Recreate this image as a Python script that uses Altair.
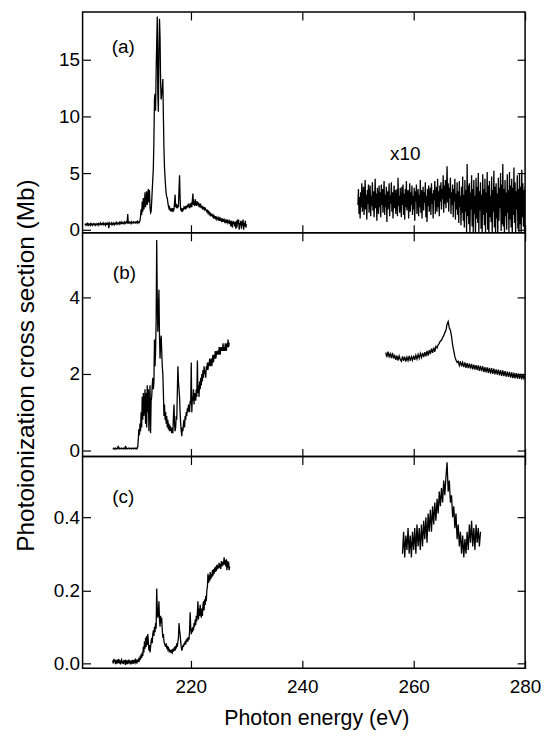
import altair as alt
import pandas as pd

# ---------------- data ----------------
# x grids: (start eV, step eV); y values
A1_START, A1_STEP = 201.0, 0.1
A1_Y = [
    0.45, 0.5, 0.4, 0.5, 0.45, 0.55, 0.4, 0.5, 0.45, 0.5,
    0.4, 0.55, 0.45, 0.5, 0.4, 0.5, 0.55, 0.45, 0.5, 0.4,
    0.5, 0.45, 0.55, 0.5, 0.4, 0.55, 0.5, 0.45, 0.6, 0.5,
    0.45, 0.55, 0.5, 0.6, 0.45, 0.5, 0.55, 0.4, 0.55, 0.5,
    0.6, 0.5, 0.55, 0.15, 0.6, 0.5, 0.55, 0.5, 0.6, 0.45,
    0.55, 0.5, 0.6, 0.45, 0.55, 0.6, 0.5, 0.65, 0.55, 0.5,
    0.6, 0.55, 0.65, 0.5, 0.6, 0.7, 0.55, 0.6, 0.65, 0.55,
    0.6, 0.7, 0.55, 0.65, 0.6, 0.7, 0.65, 1.4, 0.6, 0.65,
    0.6, 0.7, 0.65, 0.55, 0.7, 0.6, 0.65, 0.7, 0.6, 0.65,
    0.7, 0.6, 0.65, 0.7, 0.6, 0.75, 0.65, 0.6, 0.7, 0.8,
    1.2, 1.8, 1.3, 2.5, 1.6, 2.8, 1.8, 2.2, 3.3, 2.0,
    2.6, 3.4, 2.2, 3.0, 3.6, 2.4, 3.5, 2.0, 1.5, 1.6,
    2.5, 3.5, 4.5, 5.5, 8.0, 11.5, 12.0, 10.5, 14.0, 16.5,
    18.8, 12.0, 10.4, 16.0, 18.6, 17.0, 13.0, 11.5, 12.0, 12.5,
    13.3, 10.0, 7.2, 5.5, 4.6, 3.8, 3.2, 2.9, 2.8, 2.4,
    2.1, 1.9, 2.0, 1.7, 1.9, 1.6, 1.8, 1.7, 1.9, 1.7,
    1.8, 2.4, 3.1, 2.0, 2.3, 1.9, 2.2, 2.0, 2.1, 3.5,
    4.8, 2.8, 1.7, 1.8, 1.6, 1.9, 1.7, 1.8, 2.0, 1.9,
    2.0, 1.8, 2.1, 1.9, 2.2, 2.0, 2.3, 2.1, 1.9, 2.2,
    2.1, 2.4, 2.0, 2.6, 3.2, 2.2, 2.5, 2.1, 2.7, 2.3,
    2.4, 2.1, 2.5, 2.2, 2.4, 2.0, 2.3, 2.1, 2.2, 1.9,
    2.1, 1.9, 2.0, 1.8, 2.0, 1.7, 1.9, 1.8, 1.7, 1.6,
    1.7, 1.5, 1.6, 1.4, 1.5, 1.3, 1.4, 1.2, 1.4, 1.2,
    1.3, 1.1, 1.2, 1.0, 1.2, 1.0, 1.1, 0.9, 1.0, 1.1,
    0.9, 1.0, 0.8, 1.0, 0.9, 0.8, 1.0, 0.7, 0.9, 0.8,
    0.9, 0.7, 0.8, 0.6, 0.8, 0.7, 0.9, 0.6, 0.7, 0.8,
    0.5, 0.8, 0.3, 0.7, 0.6, 0.2, 0.8, 0.5, 0.7, 0.3,
    0.7, 0.1, 0.8, 0.2, 0.9, 0.5, 0.9, 0.0, 0.6, 0.4,
    0.8, 0.1, 0.6, 0.5, 0.9, 0.0, 0.6, 0.3, 0.8, 0.2,
    0.5,
]

A2_START, A2_STEP = 250.0, 0.1   # the "x10" trace
A2_Y = [
    2.2, 3.6, 1.4, 2.9, 1.0, 3.3, 2.0, 4.1, 1.6, 2.7,
    3.8, 1.3, 2.5, 4.4, 1.8, 3.1, 0.9, 3.5, 2.3, 4.0,
    1.5, 2.8, 3.9, 1.2, 3.0, 2.1, 4.2, 1.7, 3.4, 1.1,
    2.6, 4.5, 1.9, 3.2, 0.8, 3.7, 2.4, 1.4, 3.9, 2.0,
    3.3, 1.1, 4.0, 2.2, 3.6, 1.5, 2.9, 4.3, 1.3, 3.1,
    2.0, 3.8, 0.7, 3.4, 1.8, 2.6, 4.1, 1.2, 3.0, 2.3,
    4.2, 1.6, 3.3, 1.0, 2.8, 3.9, 1.9, 3.5, 1.4, 2.7,
    3.6, 1.2, 4.6, 2.1, 3.0, 1.5, 3.7, 2.4, 1.1, 3.8,
    2.2, 4.0, 1.3, 3.2, 0.9, 3.6, 2.0, 4.3, 1.7, 2.9,
    3.5, 1.0, 2.6, 4.1, 1.6, 3.3, 2.2, 3.9, 1.3, 3.0,
    1.8, 3.7, 0.8, 3.4, 2.5, 4.0, 1.4, 2.8, 3.6, 1.2,
    3.1, 2.0, 4.4, 1.5, 3.5, 1.0, 2.9, 3.8, 1.7, 3.3,
    2.4, 4.2, 1.1, 3.0, 0.7, 3.6, 2.1, 3.9, 1.6, 2.8,
    3.7, 1.3, 4.1, 2.3, 3.2, 1.0, 3.5, 2.6, 4.3, 1.4,
    2.9, 3.8, 1.6, 4.5, 2.0, 3.4, 1.2, 3.9, 2.5, 4.2,
    1.8, 3.6, 2.7, 4.8, 1.5, 3.9, 2.3, 4.4, 1.9, 3.5,
    5.6, 2.4, 4.1, 1.6, 3.7, 2.8, 4.6, 1.4, 3.3, 2.2,
    4.0, 1.1, 3.6, 2.5, 4.5, 0.9, 3.2, 1.8, 4.2, 1.3,
    3.4, 0.6, 4.3, 2.0, 3.0, 0.4, 3.8, 1.5, 4.7, 0.8,
    3.1, 0.2, 4.4, 1.6, 3.5, -0.3, 5.8, 1.2, 3.9, 0.5,
    4.1, -0.4, 3.3, 1.8, 4.8, 0.3, 3.6, -0.2, 4.4, 1.4,
    3.0, -0.5, 4.6, 1.0, 3.8, 0.6, 5.0, -0.3, 3.4, 1.7,
    4.2, 0.1, 3.1, -0.4, 4.9, 1.3, 3.6, 0.4, 4.5, -0.2,
    3.3, 1.5, 5.1, 0.0, 3.9, -0.5, 4.3, 1.1, 3.0, 0.7,
    4.7, -0.3, 3.5, 1.6, 5.2, 0.2, 3.8, -0.4, 4.1, 1.0,
    3.2, -0.5, 4.6, 0.8, 3.7, 1.9, 5.0, -0.1, 4.0, 0.5,
    5.8, 0.3, 3.6, -0.5, 4.4, 1.2, 3.3, 0.0, 4.9, 1.5,
    3.5, -0.3, 5.1, 0.9, 3.9, 0.2, 4.5, -0.4, 3.7, 1.3,
    5.5, 0.6, 4.2, -0.4, 3.4, 1.8, 4.8, 0.1, 3.6, -0.2,
    4.9, 0.5, 3.8, -0.5, 5.3, 1.1, 4.1, 0.3, 3.5, -0.3,
    3.8,
]

B1_START, B1_STEP = 206.0, 0.1
B1_Y = [
    0.05, 0.04, 0.06, 0.05, 0.03, 0.06, 0.05, 0.04, 0.06, 0.05,
    0.12, 0.05, 0.04, 0.06, 0.05, 0.04, 0.06, 0.05, 0.05, 0.04,
    0.06, 0.05, 0.04, 0.12, 0.05, 0.06, 0.04, 0.05, 0.06, 0.05,
    0.04, 0.06, 0.05, 0.05, 0.04, 0.06, 0.05, 0.04, 0.06, 0.05,
    0.05, 0.06, 0.04, 0.06, 0.05, 0.1, 0.3, 0.55, 0.4, 0.7,
    0.5, 1.0, 0.6, 1.4, 0.8, 1.5, 0.9, 1.2, 1.6, 0.7,
    1.5, 0.6, 1.7, 1.0, 1.6, 0.5, 1.3, 1.7, 0.45, 1.3,
    1.4, 1.7, 1.9, 1.6, 1.8, 2.9, 2.2, 2.6, 3.4, 5.5,
    4.0, 3.1, 3.6, 4.2, 3.0, 2.4, 2.8, 3.0, 2.6, 2.2,
    2.0, 1.5, 0.9, 1.2, 0.8, 1.0, 0.7, 0.9, 0.6, 0.8,
    0.55, 0.7, 0.5, 0.65, 0.5, 0.6, 0.45, 0.6, 0.45, 0.9,
    1.2, 0.7, 0.5, 0.6, 0.9, 0.8, 1.5, 2.2, 1.8, 1.6,
    1.4, 1.0, 0.7, 0.5, 0.37, 0.6, 0.5, 0.7, 0.8, 0.6,
    0.9, 0.8, 1.0, 0.9, 1.1, 1.0, 1.2, 1.1, 1.0, 1.3,
    1.2, 2.3, 1.0, 1.4, 1.3, 1.6, 1.2, 1.5, 1.4, 1.3,
    1.6, 1.4, 2.35, 1.5, 1.7, 1.4, 1.8, 1.6, 1.9, 1.7,
    2.0, 1.8, 2.1, 1.9, 2.2, 2.0, 2.1, 1.9, 2.2, 2.1,
    2.3, 2.1, 2.3, 2.2, 2.4, 2.2, 2.3, 2.4, 2.2, 2.4,
    2.5, 2.3, 2.5, 2.4, 2.6, 2.4, 2.5, 2.6, 2.5, 2.6,
    2.5, 2.7, 2.6, 2.5, 2.7, 2.6, 2.7, 2.6, 2.8, 2.6,
    2.7, 2.6, 2.8, 2.7, 2.6, 2.8, 2.7, 2.9, 2.7, 2.8,
    2.8,
]

B2_START, B2_STEP = 255.0, 0.2
B2_Y = [
    2.56, 2.44, 2.58, 2.45, 2.53, 2.41, 2.55, 2.4, 2.5, 2.37,
    2.48, 2.35, 2.47, 2.38, 2.33, 2.46, 2.34, 2.45, 2.32, 2.44,
    2.35, 2.47, 2.34, 2.45, 2.36, 2.48, 2.37, 2.49, 2.39, 2.51,
    2.41, 2.53, 2.43, 2.55, 2.44, 2.57, 2.46, 2.6, 2.48, 2.62,
    2.52, 2.66, 2.55, 2.69, 2.58, 2.72, 2.68, 2.76, 2.8, 2.86,
    2.88, 2.95, 3.0, 3.08, 3.14, 3.3, 3.37, 3.2, 3.14, 2.98,
    2.75, 2.6, 2.45, 2.36, 2.3, 2.33, 2.22, 2.33, 2.2, 2.3,
    2.18, 2.3, 2.16, 2.28, 2.15, 2.27, 2.14, 2.26, 2.12, 2.24,
    2.11, 2.23, 2.1, 2.22, 2.08, 2.21, 2.07, 2.2, 2.05, 2.18,
    2.04, 2.17, 2.03, 2.16, 2.01, 2.15, 2.0, 2.14, 1.99, 2.12,
    1.98, 2.11, 1.96, 2.1, 1.95, 2.09, 1.94, 2.07, 1.93, 2.06,
    1.92, 2.05, 1.9, 2.04, 1.89, 2.03, 1.88, 2.02, 1.88, 2.01,
    1.87, 2.0, 1.86, 1.99, 1.88, 1.96,
]

C1_START, C1_STEP = 206.0, 0.1
C1_Y = [
    0.008, 0.0, 0.012, 0.004, 0.01, -0.002, 0.008, 0.003, 0.01, 0.0,
    0.006, 0.012, 0.0, 0.008, -0.003, 0.006, 0.01, 0.0, 0.007, -0.002,
    0.005, 0.0, 0.009, -0.004, 0.006, 0.002, 0.008, -0.002, 0.005, 0.01,
    0.0, 0.007, -0.003, 0.008, 0.002, 0.006, -0.001, 0.009, 0.003, 0.007,
    0.002, 0.009, 0.004, 0.01, 0.003, 0.008, 0.006, 0.012, 0.008, 0.015,
    0.01, 0.025, 0.015, 0.03, 0.02, 0.045, 0.03, 0.06, 0.04, 0.07,
    0.045, 0.075, 0.05, 0.08, 0.06, 0.035, 0.05, 0.03, 0.045, 0.06,
    0.07, 0.055, 0.08, 0.09, 0.075, 0.1, 0.085, 0.11, 0.095, 0.205,
    0.15, 0.125, 0.14, 0.17, 0.12, 0.1, 0.13, 0.11, 0.125, 0.09,
    0.07, 0.08, 0.06, 0.054, 0.05, 0.045, 0.055, 0.04, 0.048, 0.038,
    0.042, 0.035, 0.04, 0.03, 0.036, 0.028, 0.034, 0.03, 0.04, 0.032,
    0.038, 0.045, 0.035, 0.048, 0.04, 0.055, 0.045, 0.06, 0.07, 0.11,
    0.09, 0.08, 0.06, 0.045, 0.035, 0.04, 0.05, 0.045, 0.055, 0.05,
    0.06, 0.052, 0.065, 0.058, 0.07, 0.06, 0.072, 0.065, 0.09, 0.14,
    0.1, 0.08, 0.095, 0.085, 0.1, 0.09, 0.11, 0.1, 0.12, 0.105,
    0.13, 0.115, 0.14, 0.17, 0.12, 0.15, 0.13, 0.16, 0.14, 0.125,
    0.15, 0.13, 0.16, 0.17, 0.145, 0.175, 0.16, 0.185, 0.17, 0.2,
    0.21, 0.245, 0.22, 0.24, 0.225, 0.25, 0.23, 0.245, 0.235, 0.255,
    0.24, 0.258, 0.245, 0.262, 0.25, 0.265, 0.252, 0.27, 0.258, 0.268,
    0.26, 0.275, 0.262, 0.272, 0.258, 0.28, 0.265, 0.278, 0.268, 0.276,
    0.29, 0.27, 0.282, 0.265, 0.285, 0.255, 0.28, 0.262, 0.278, 0.255,
    0.265,
]

C2_START, C2_STEP = 258.0, 0.2
C2_Y = [
    0.3, 0.36, 0.29, 0.35, 0.31, 0.37, 0.3, 0.35, 0.29, 0.36,
    0.31, 0.37, 0.3, 0.38, 0.32, 0.37, 0.31, 0.38, 0.32, 0.39,
    0.34, 0.4, 0.33, 0.41, 0.36, 0.42, 0.36, 0.43, 0.38, 0.44,
    0.39, 0.45, 0.41, 0.47, 0.43, 0.48, 0.44, 0.5, 0.46, 0.51,
    0.55, 0.47, 0.5, 0.44, 0.46, 0.4, 0.43, 0.37, 0.41, 0.34,
    0.38, 0.32, 0.36, 0.3, 0.35, 0.29, 0.34, 0.3, 0.36, 0.31,
    0.38, 0.33, 0.39, 0.32, 0.37, 0.31, 0.38, 0.33, 0.37, 0.32,
    0.36,
]

X_TICKS = [220, 240, 260, 280]
X_DOMAIN = [200.6, 280.0]

PANELS = [
    dict(label="(a)", lab_xy=(207.9, 16.1), ydom=[-0.26, 19.2], yticks=[0, 5, 10, 15], fmt="d",
         left=(A1_START, A1_STEP, A1_Y), right=(A2_START, A2_STEP, A2_Y), height=222),
    dict(label="(b)", lab_xy=(208.1, 4.65), ydom=[-0.16, 5.69], yticks=[0, 2, 4], fmt="d",
         left=(B1_START, B1_STEP, B1_Y), right=(B2_START, B2_STEP, B2_Y), height=225),
    dict(label="(c)", lab_xy=(207.9, 0.456), ydom=[-0.0136, 0.566], yticks=[0.0, 0.2, 0.4], fmt=".1f",
         left=(C1_START, C1_STEP, C1_Y), right=(C2_START, C2_STEP, C2_Y), height=213),
]
ANNOT_X10 = ("x10", 258.5, 6.67)


def seg_df(spec):
    start, step, ys = spec
    return pd.DataFrame({"E": [round(start + i * step, 3) for i in range(len(ys))], "y": ys})


FONT = "Liberation Sans"
WIDTH = 445
LINE_W = 1.3


def make_panel(i, p):
    bottom = i == 2
    middle = i == 1
    xs = alt.Scale(domain=X_DOMAIN, nice=False, zero=False)
    ys = alt.Scale(domain=p["ydom"], nice=False, zero=False)
    tick = dict(offset=-8, tickSize=8, domain=False, grid=False, tickColor="black",
                tickWidth=1.2, labelFlush=False)

    xb_kwargs = dict(orient="bottom", values=X_TICKS, labels=bottom, labelPadding=9, **tick)
    if bottom:
        xb = alt.Axis(title="Photon energy (eV)", titleX=235, titleY=47, titleFontSize=21.5, **xb_kwargs)
    else:
        xb = alt.Axis(title=None, **xb_kwargs)

    yl_kwargs = dict(orient="left", values=p["yticks"], format=p["fmt"], labelPadding=3, **tick)
    if middle:
        yl = alt.Axis(title="Photoionization cross section (Mb)", titleY=133, titlePadding=31,
                      titleFontSize=24.5, **yl_kwargs)
    else:
        yl = alt.Axis(title=None, **yl_kwargs)

    line1 = alt.Chart(seg_df(p["left"])).mark_line(color="black", strokeWidth=LINE_W, clip=True).encode(
        x=alt.X("E:Q", scale=xs, axis=xb),
        y=alt.Y("y:Q", scale=ys, axis=yl),
    )
    line2 = alt.Chart(seg_df(p["right"])).mark_line(color="black", strokeWidth=LINE_W, clip=True).encode(
        x=alt.X("E:Q", scale=xs, axis=alt.Axis(orient="top", values=X_TICKS, labels=False, title=None, **tick)),
        y=alt.Y("y:Q", scale=ys, axis=alt.Axis(orient="right", values=p["yticks"], labels=False, title=None, **tick)),
    )
    texts = [{"E": p["lab_xy"][0], "y": p["lab_xy"][1], "t": p["label"]}]
    if i == 0:
        texts.append({"E": ANNOT_X10[1], "y": ANNOT_X10[2], "t": ANNOT_X10[0]})
    txt = alt.Chart(pd.DataFrame(texts)).mark_text(
        font=FONT, fontSize=19, color="black", align="center", baseline="middle"
    ).encode(
        x=alt.X("E:Q", scale=xs, axis=None),
        y=alt.Y("y:Q", scale=ys, axis=None),
        text="t:N",
    )
    return alt.layer(line1, line2, txt).resolve_axis(x="independent", y="independent").properties(
        width=WIDTH, height=p["height"]
    )


panels = [make_panel(i, p) for i, p in enumerate(PANELS)]

chart = alt.vconcat(*panels, spacing=0, bounds="flush").properties(
    padding={"left": 4, "top": 0, "right": 0, "bottom": 0}
).configure_view(
    stroke="black", strokeWidth=1.5
).configure_axis(
    labelFont=FONT, labelFontSize=19, labelColor="black",
    titleFont=FONT, titleFontWeight="normal", titleColor="black",
)

chart.save("out.html", embed_options={"renderer": "svg", "actions": False})
